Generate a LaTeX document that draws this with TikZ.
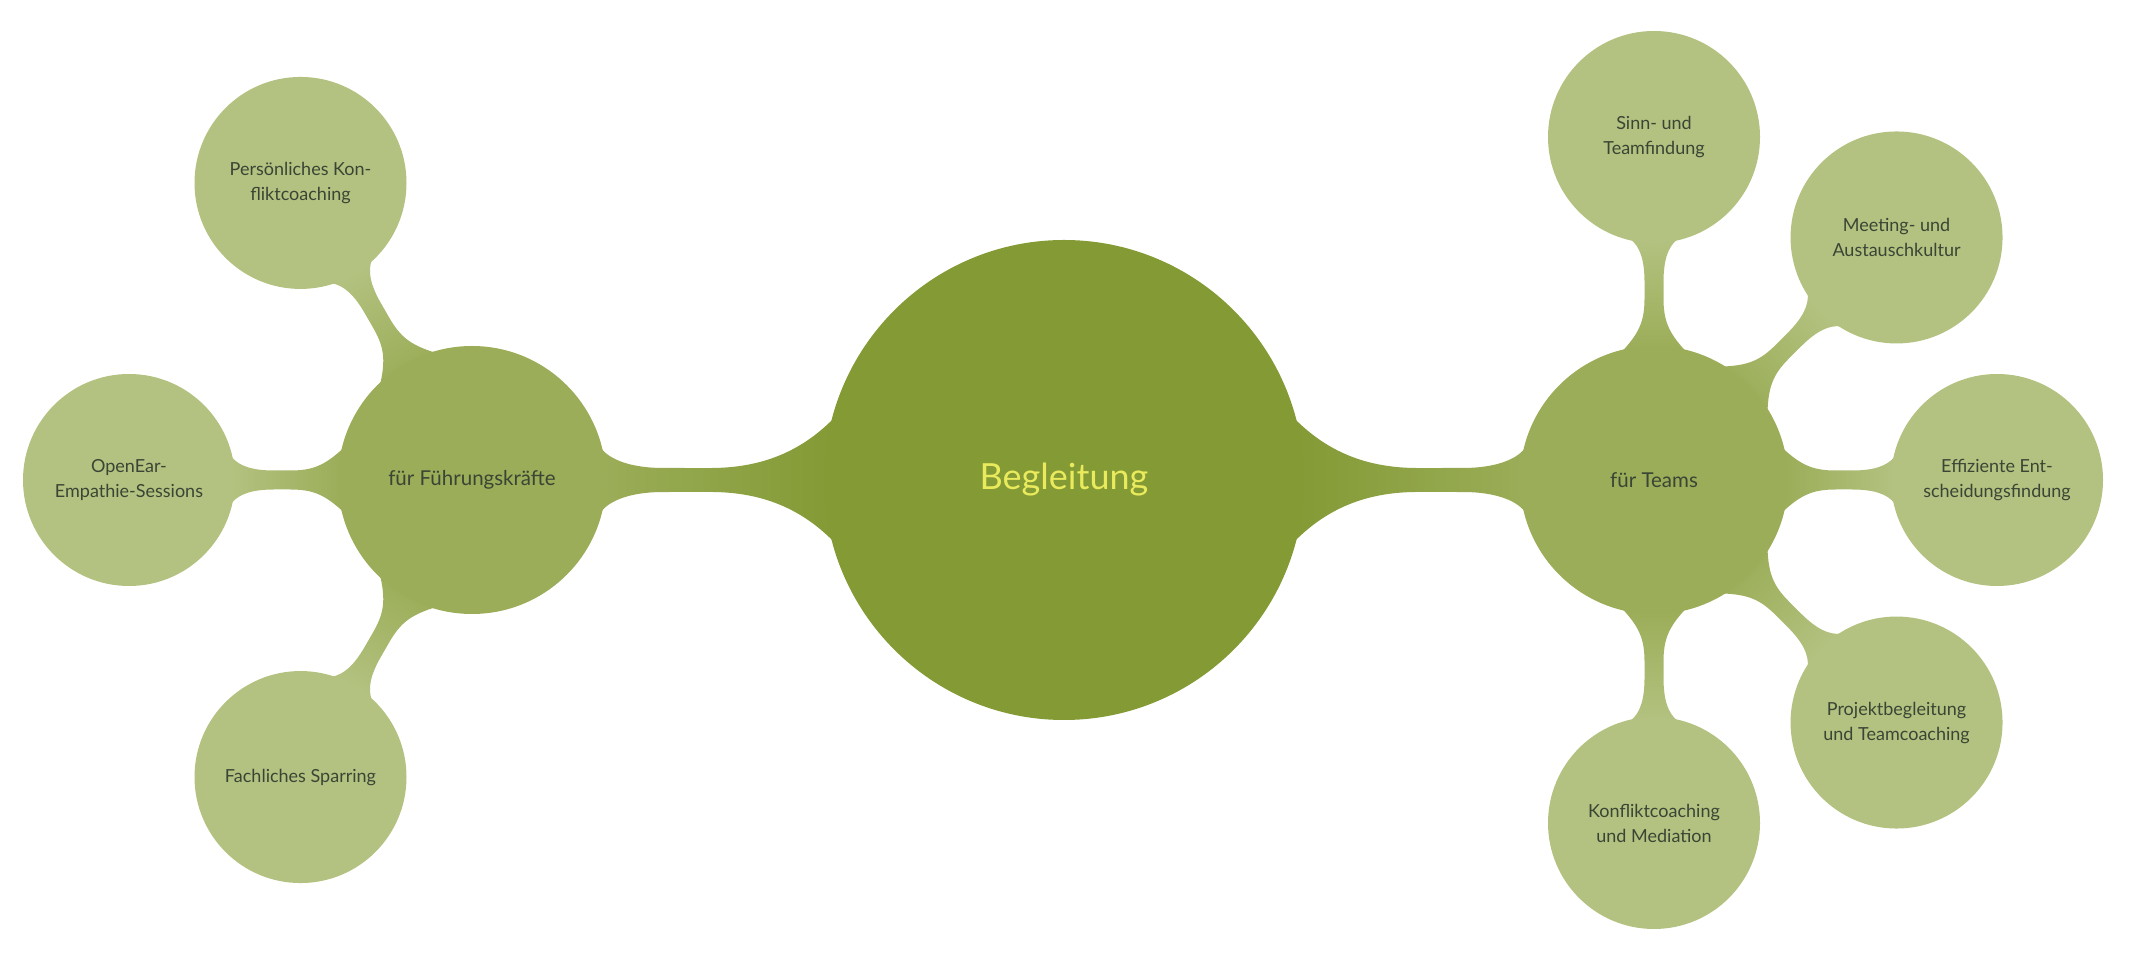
\documentclass[tikz,border=0pt]{standalone}
\usepackage{fontspec}
\setmainfont{Lato}
\usetikzlibrary{calc}
\pgfdeclarelayer{background}
\pgfsetlayers{background,main}
\definecolor{cmain}{HTML}{839A35}
\definecolor{chub}{HTML}{9BAD58}
\definecolor{cleaf}{HTML}{B3C280}
\definecolor{ctext}{HTML}{3A4535}
\definecolor{ctitle}{HTML}{E9EA5C}
\pgfdeclarehorizontalshading{mainhub}{100bp}{color(0bp)=(cmain); color(25bp)=(cmain); color(75bp)=(chub); color(100bp)=(chub)}
\pgfdeclarehorizontalshading{hubleaf}{100bp}{color(0bp)=(chub); color(25bp)=(chub); color(75bp)=(cleaf); color(100bp)=(cleaf)}
% generic bar between two circle nodes; geometry given by \mm... macros
\newcommand\mmbar[4]{%
  \shade[shading=#3, shading angle=#4]
   ($(#1.center)!\mmAr!\mmAp:(#2.center)$)
   .. controls ($(#1.center)!\mmCar!\mmCap:(#2.center)$) and ($(#1.center)!\mmCbr!\mmCbp:(#2.center)$) .. ($(#1.center)!\mmEr!\mmEp:(#2.center)$)
   -- ($(#2.center)!\mmFr!-\mmFp:(#1.center)$)
   .. controls ($(#2.center)!\mmGr!-\mmGp:(#1.center)$) and ($(#2.center)!\mmHr!-\mmHp:(#1.center)$) .. ($(#2.center)!\mmBr!-\mmBp:(#1.center)$)
   -- ($(#2.center)!\mmBr!\mmBp:(#1.center)$)
   .. controls ($(#2.center)!\mmHr!\mmHp:(#1.center)$) and ($(#2.center)!\mmGr!\mmGp:(#1.center)$) .. ($(#2.center)!\mmFr!\mmFp:(#1.center)$)
   -- ($(#1.center)!\mmEr!-\mmEp:(#2.center)$)
   .. controls ($(#1.center)!\mmCbr!-\mmCbp:(#2.center)$) and ($(#1.center)!\mmCar!-\mmCap:(#2.center)$) .. ($(#1.center)!\mmAr!-\mmAp:(#2.center)$)
   -- cycle;}
\newcommand\mainbar[3]{%
  \def\mmAr{239pt}\def\mmAp{14.73}%
  \def\mmCar{263.7pt}\def\mmCap{6.53}%
  \def\mmCbr{300.2pt}\def\mmCbp{2.29}%
  \def\mmEr{354.2pt}\def\mmEp{1.94}%
  \def\mmFr{191.4pt}\def\mmFp{3.6}%
  \def\mmGr{160.4pt}\def\mmGp{4.29}%
  \def\mmHr{139.4pt}\def\mmHp{8.24}%
  \def\mmBr{133pt}\def\mmBp{13.8}%
  \mmbar{#1}{#2}{mainhub}{#3}}
\newcommand\leafbar[3]{%
  \def\mmAr{133pt}\def\mmAp{13.6}%
  \def\mmCar{148.7pt}\def\mmCap{5.4}%
  \def\mmCbr{160.3pt}\def\mmCbp{3.4}%
  \def\mmEr{182.2pt}\def\mmEp{2.99}%
  \def\mmFr{145.3pt}\def\mmFp{3.75}%
  \def\mmGr{123.4pt}\def\mmGp{4.42}%
  \def\mmHr{110.9pt}\def\mmHp{7.25}%
  \def\mmBr{105pt}\def\mmBp{12.8}%
  \mmbar{#1}{#2}{hubleaf}{#3}}
\begin{document}
\begin{tikzpicture}[x=1pt,y=1pt,
  mainnode/.style={circle, fill=cmain, minimum size=480pt, inner sep=0pt,
    text=ctitle, font=\fontsize{36}{42}\selectfont},
  hubnode/.style={circle, fill=chub, minimum size=268pt, inner sep=0pt,
    text=ctext, font=\fontsize{20.5}{26}\selectfont, align=center},
  leafnode/.style={circle, fill=cleaf, minimum size=212pt, inner sep=0pt,
    text=ctext, font=\fontsize{18}{25}\selectfont, align=center}]
\useasboundingbox (0,0) rectangle (2130,958);
% nodes
\node[mainnode] (M) at (1064,478) {Begleitung};
\node[hubnode] (L) at (472,478) {für Führungskräfte};
\node[hubnode] (R) at (1654,478) {für Teams};
\node[leafnode] (P1) at ($(L)+(120:343)$) {Persönliches Kon-\\fliktcoaching};
\node[leafnode] (P2) at ($(L)+(180:343)$) {OpenEar-\\Empathie-Sessions};
\node[leafnode] (P3) at ($(L)+(240:343)$) {Fachliches Sparring};
\node[leafnode] (T1) at ($(R)+(90:343)$) {Sinn- und\\Teamfindung};
\node[leafnode] (T2) at ($(R)+(45:343)$) {Meeting- und\\Austauschkultur};
\node[leafnode] (T3) at ($(R)+(0:343)$) {Effiziente Ent-\\scheidungsfindung};
\node[leafnode] (T4) at ($(R)+(-45:343)$) {Projektbegleitung\\und Teamcoaching};
\node[leafnode] (T5) at ($(R)+(-90:343)$) {Konfliktcoaching\\und Mediation};
% connectors, behind the circles
\begin{pgfonlayer}{background}
\mainbar{M}{L}{180}
\mainbar{M}{R}{0}
\leafbar{L}{P1}{120}
\leafbar{L}{P2}{180}
\leafbar{L}{P3}{240}
\leafbar{R}{T1}{90}
\leafbar{R}{T2}{45}
\leafbar{R}{T3}{0}
\leafbar{R}{T4}{-45}
\leafbar{R}{T5}{-90}
\end{pgfonlayer}
\end{tikzpicture}
\end{document}
